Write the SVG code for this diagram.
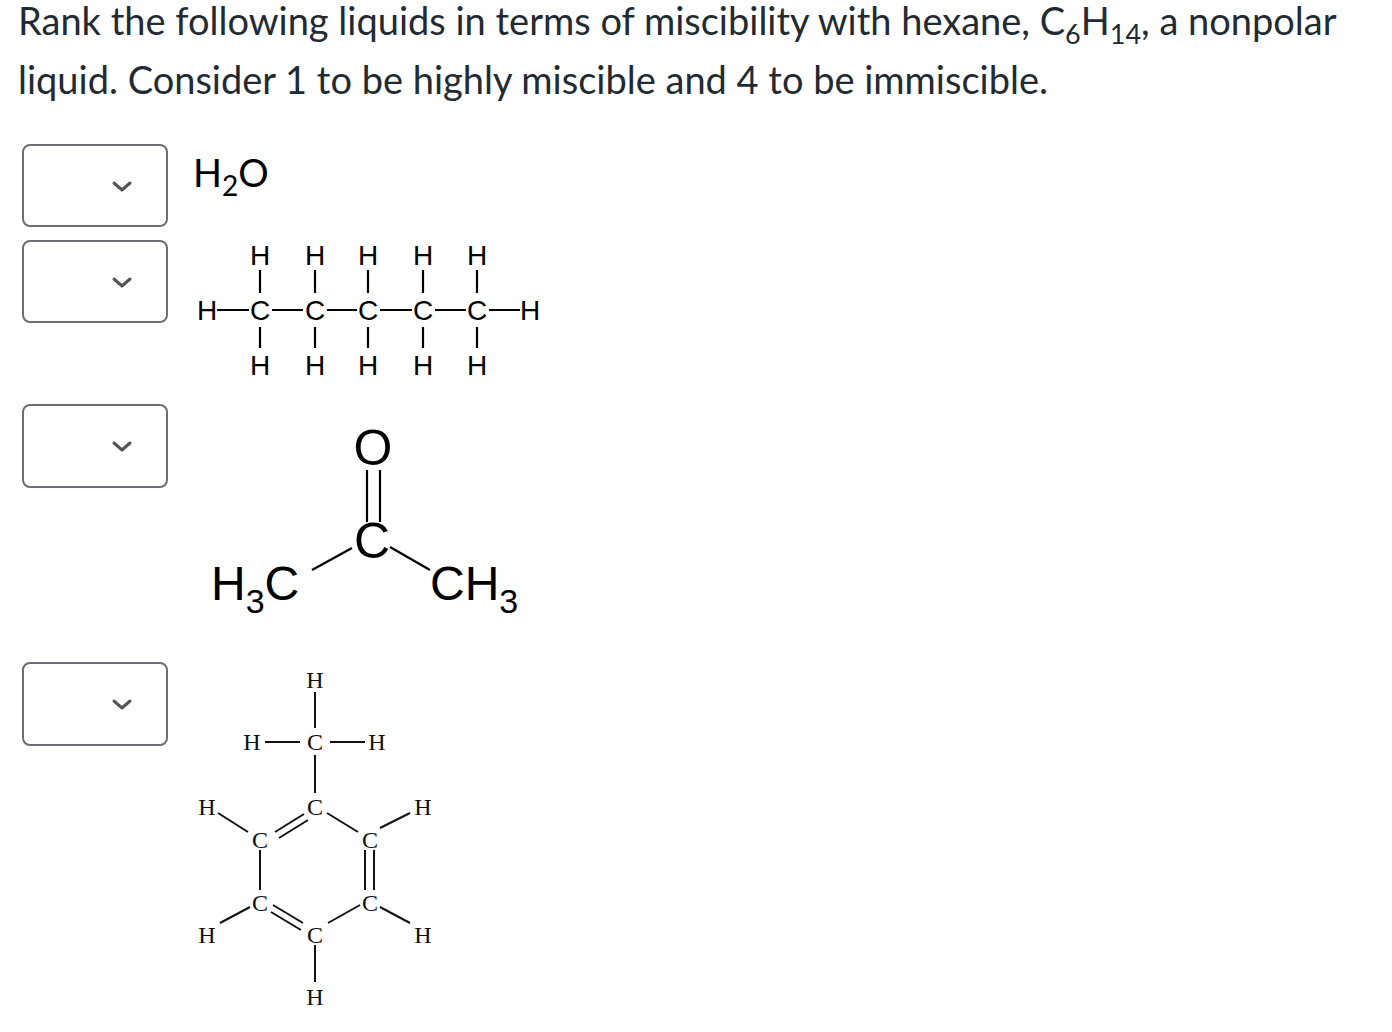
<svg xmlns="http://www.w3.org/2000/svg" width="1392" height="1032" viewBox="0 0 1392 1032">
<style>
.t{font-family:Lato,"Liberation Sans",sans-serif;font-size:38px;fill:#222b33}
.box{fill:#fff;stroke:#6b6f73;stroke-width:2}
.chev{fill:none;stroke:#555;stroke-width:3;stroke-linecap:round;stroke-linejoin:round}
.s{font-family:"Liberation Sans",Arial,sans-serif;fill:#000;text-anchor:middle}
.r{font-family:"Liberation Serif","Times New Roman",serif;font-size:24px;fill:#111;text-anchor:middle}
.b{stroke:#000;stroke-width:2.2;fill:none}
.bt{stroke:#111;stroke-width:2;fill:none}
</style>
<rect width="1392" height="1032" fill="#fff"/>
<g id="title">
<text class="t" x="18" y="35">Rank the following liquids in terms of miscibility with hexane, C<tspan font-size="27" dy="9">6</tspan><tspan dy="-9">H</tspan><tspan font-size="27" dy="9">14</tspan><tspan dy="-9">, a nonpolar</tspan></text>
<text class="t" x="18" y="94">liquid. Consider 1 to be highly miscible and 4 to be immiscible.</text>
</g>
<g id="dropdowns">
<rect class="box" x="23" y="145" width="144" height="81" rx="7"/>
<path class="chev" d="M114 183 L122 190 L130 183"/>
<rect class="box" x="23" y="241" width="144" height="81" rx="7"/>
<path class="chev" d="M114 279 L122 286 L130 279"/>
<rect class="box" x="23" y="405" width="144" height="82" rx="7"/>
<path class="chev" d="M114 443 L122 450 L130 443"/>
<rect class="box" x="23" y="663" width="144" height="82" rx="7"/>
<path class="chev" d="M114 701 L122 708 L130 701"/>
</g>
<g id="water">
<text x="193" y="187" style="font-family:Lato,'Liberation Sans',sans-serif;font-size:38px;fill:#000">H<tspan font-size="28" dy="9">2</tspan><tspan dy="-9">O</tspan></text>
</g>
<g id="pentane">
<g class="s" font-size="28">
<text x="207" y="320">H</text><text x="530" y="320">H</text>
<text x="260" y="320">C</text><text x="315" y="320">C</text><text x="368" y="320">C</text><text x="423" y="320">C</text><text x="477" y="320">C</text>
<text x="260" y="265">H</text><text x="315" y="265">H</text><text x="368" y="265">H</text><text x="423" y="265">H</text><text x="477" y="265">H</text>
<text x="260" y="375">H</text><text x="315" y="375">H</text><text x="368" y="375">H</text><text x="423" y="375">H</text><text x="477" y="375">H</text>
</g>
<path class="b" d="M217 310H249M272 310H303M327 310H357M380 310H412M435 310H466M489 310H520
M260 270V293M315 270V293M368 270V293M423 270V293M477 270V293
M260 327V348M315 327V348M368 327V348M423 327V348M477 327V348"/>
</g>
<g id="acetone">
<g class="s" font-size="50">
<text x="373" y="465">O</text>
<text x="372" y="558">C</text>
</g>
<text x="211" y="600" style="font-family:'Liberation Sans',Arial,sans-serif;font-size:48px">H<tspan font-size="34" dy="13">3</tspan><tspan dy="-13">C</tspan></text>
<text x="430" y="600" style="font-family:'Liberation Sans',Arial,sans-serif;font-size:48px">CH<tspan font-size="34" dy="13">3</tspan></text>
<path class="b" d="M367 470V522M380 470V522M312 570L352 548M390 547L430 570" stroke-width="2.6"/>
</g>
<g id="toluene">
<g class="r">
<text x="315" y="688">H</text>
<text x="252" y="750">H</text><text x="315" y="750">C</text><text x="377" y="750">H</text>
<text x="315" y="815">C</text>
<text x="260" y="848">C</text><text x="370" y="848">C</text>
<text x="260" y="911">C</text><text x="370" y="911">C</text>
<text x="315" y="943">C</text>
<text x="207" y="815">H</text><text x="423" y="815">H</text>
<text x="207" y="943">H</text><text x="423" y="943">H</text>
<text x="315" y="1005">H</text>
</g>
<path class="bt" d="M315 692V728M265 742H300M330 742H365M315 755V793
M275 832L304 814M279 838L308 820M327 813L358 832
M260 850V890M365 850V890M374 850V890
M273 905L303 923M271 912L301 930M328 923L360 905
M218 813L248 832M380 828L410 813M220 923L250 907M380 907L410 923M315 945V982"/>
</g>
</svg>
